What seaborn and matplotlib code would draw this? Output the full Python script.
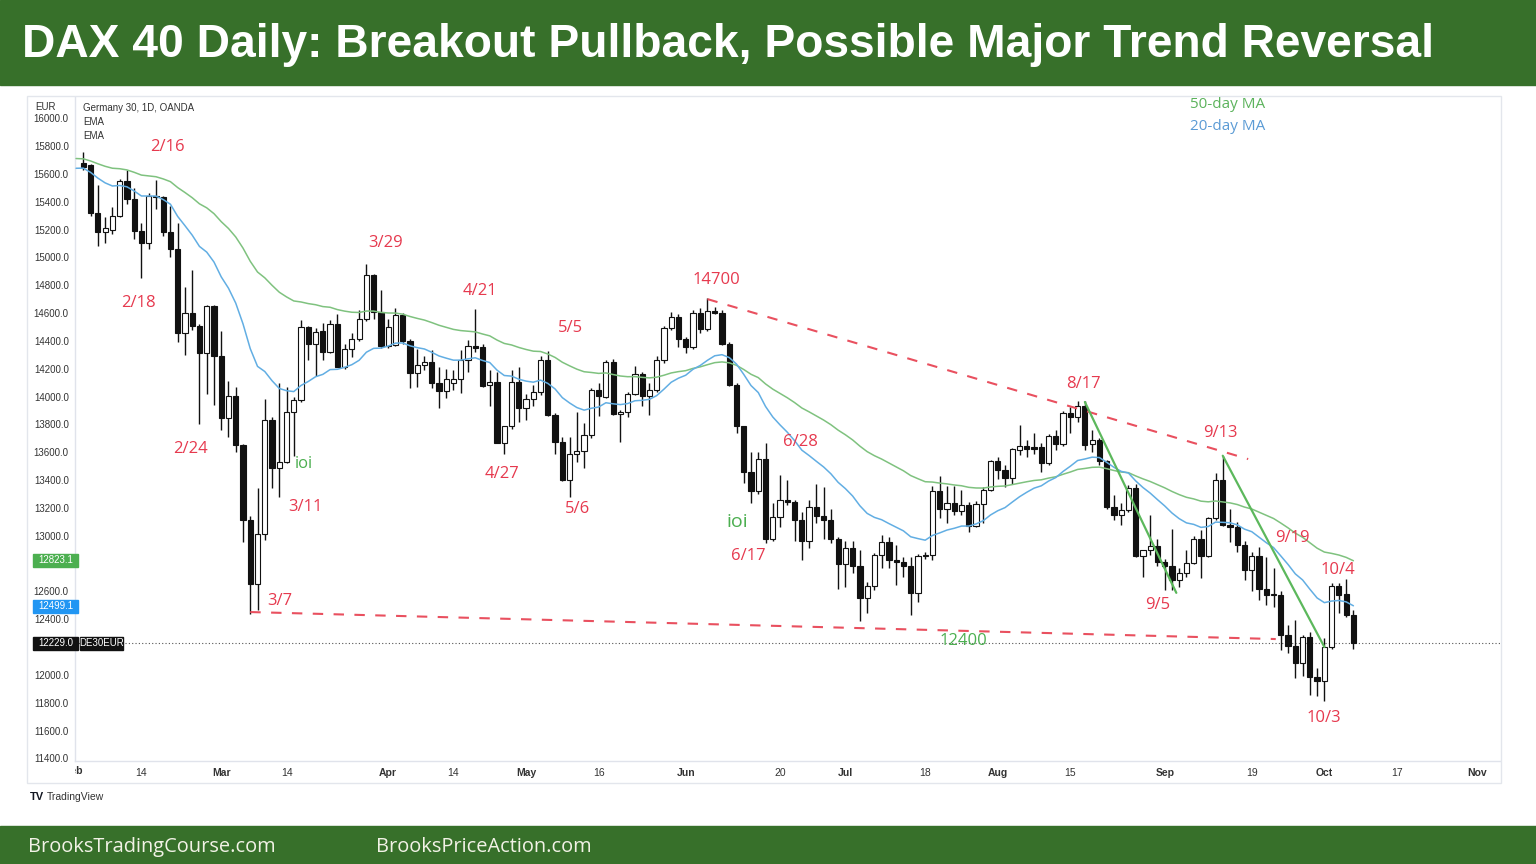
import numpy as np
import pandas as pd
import matplotlib
matplotlib.use("Agg")
import matplotlib.pyplot as plt
import matplotlib.transforms as mtransforms
from matplotlib.patches import Rectangle
import seaborn as sns

# daily OHLC, Germany 30 (DE30EUR), 2 Feb - 7 Oct 2022
opens = [15680, 15660, 15320, 15180, 15200, 15300, 15550, 15420, 15190, 15100,
         15440, 15435, 15180, 15060, 14460, 14600, 14510, 14310, 14650, 14290,
         13845, 14005, 13650, 13110, 12650, 13010, 13830, 13485, 13530, 13890,
         13975, 14500, 14380, 14470, 14320, 14520, 14215, 14345, 14410, 14560,
         14870, 14610, 14365, 14370, 14585, 14400, 14170, 14230, 14250, 14095,
         14040, 14100, 14125, 14265, 14360, 14355, 14085, 14105, 13670, 13785,
         14105, 13915, 13980, 14030, 14260, 13870, 13675, 13400, 13590, 13610,
         13725, 14045, 14000, 14250, 13875, 13890, 14020, 14160, 14005, 14045,
         14260, 14495, 14575, 14410, 14355, 14600, 14485, 14615, 14600, 14375,
         14085, 13785, 13455, 13320, 13550, 12980, 13135, 13260, 13240, 13110,
         12965, 13210, 13140, 13110, 12980, 12800, 12910, 12780, 12550, 12640,
         12860, 12955, 12825, 12815, 12785, 12590, 12855, 12860, 13325, 13195,
         13235, 13175, 13220, 13070, 13230, 13330, 13540, 13470, 13415, 13615,
         13645, 13635, 13635, 13520, 13715, 13660, 13880, 13855, 13930, 13660,
         13690, 13535, 13205, 13150, 13185, 13340, 12855, 12900, 12925, 12815,
         12785, 12680, 12735, 12805, 12980, 12855, 13125, 13400, 13080, 13065,
         12935, 12755, 12855, 12615, 12575, 12575, 12285, 12210, 12085, 12270,
         11985, 11955, 12200, 12640, 12580, 12430]
highs = [15757, 15670, 15520, 15290, 15360, 15560, 15630, 15500, 15250, 15460,
         15555, 15440, 15370, 15250, 14790, 14910, 14520, 14660, 14660, 14470,
         14115, 14070, 13660, 13140, 13340, 13985, 13850, 14095, 14070, 14000,
         14550, 14510, 14490, 14530, 14550, 14590, 14380, 14455, 14620, 14950,
         14880, 14765, 14560, 14635, 14600, 14410, 14345, 14290, 14335, 14215,
         14195, 14190, 14335, 14405, 14630, 14380, 14190, 14180, 13790, 14190,
         14210, 14020, 14085, 14290, 14330, 13880, 13710, 13710, 13890, 13810,
         14060, 14100, 14260, 14270, 13900, 14030, 14220, 14180, 14095, 14290,
         14510, 14605, 14590, 14430, 14620, 14635, 14705, 14640, 14620, 14395,
         14100, 13790, 13605, 13605, 13670, 13235, 13435, 13400, 13260, 13170,
         13255, 13375, 13350, 13190, 12990, 12960, 12960, 12900, 12670, 12875,
         13005, 12990, 12935, 12850, 12850, 12870, 12880, 13360, 13430, 13355,
         13355, 13330, 13245, 13250, 13350, 13545, 13565, 13505, 13630, 13795,
         13685, 13740, 13670, 13730, 13760, 13895, 13925, 13970, 13970, 13760,
         13700, 13545, 13290, 13235, 13365, 13375, 12900, 13150, 12980, 12830,
         13050, 12770, 12900, 12995, 13040, 13135, 13450, 13575, 13195, 13100,
         12960, 12880, 12920, 12850, 12765, 12600, 12360, 12395, 12290, 12310,
         12050, 12265, 12660, 12660, 12690, 12470]
lows = [15630, 15300, 15080, 15100, 15170, 15290, 15380, 15130, 14850, 15060,
        15345, 15155, 15000, 14390, 14300, 14480, 13800, 14020, 13940, 13760,
        13710, 13605, 12955, 12440, 12470, 12970, 13340, 13280, 13520, 13570,
        13960, 14260, 14145, 14260, 14310, 14210, 14200, 14287, 14400, 14540,
        14560, 14350, 14350, 14360, 14380, 14060, 14070, 14190, 14060, 13915,
        13987, 14050, 14025, 14180, 14320, 14070, 13930, 13665, 13590, 13770,
        13820, 13830, 13930, 14010, 13860, 13590, 13395, 13280, 13530, 13485,
        13700, 13860, 13990, 13870, 13675, 13855, 14010, 13930, 13870, 14030,
        14240, 14480, 14355, 14315, 14340, 14455, 14470, 14590, 14370, 14075,
        13740, 13380, 13235, 13300, 12945, 12960, 13065, 13220, 12965, 12825,
        12910, 13090, 12980, 12945, 12615, 12635, 12735, 12385, 12445, 12610,
        12765, 12765, 12645, 12705, 12430, 12525, 12830, 12825, 13125, 13090,
        13150, 13150, 13030, 13060, 13090, 13320, 13410, 13350, 13375, 13580,
        13565, 13590, 13455, 13510, 13615, 13645, 13735, 13820, 13615, 13605,
        13510, 13195, 13115, 13075, 13170, 12850, 12705, 12860, 12780, 12610,
        12610, 12635, 12705, 12800, 12695, 12845, 13115, 13070, 12955, 12885,
        12685, 12600, 12540, 12500, 12490, 12180, 12155, 11975, 11990, 11855,
        11850, 11810, 12190, 12445, 12420, 12185]
closes = [15650, 15320, 15180, 15210, 15300, 15550, 15420, 15190, 15100, 15440,
          15435, 15180, 15060, 14460, 14600, 14510, 14310, 14650, 14290, 13845,
          14005, 13650, 13110, 12650, 13010, 13830, 13485, 13530, 13890, 13975,
          14500, 14380, 14465, 14320, 14520, 14215, 14345, 14410, 14560, 14870,
          14610, 14365, 14500, 14585, 14400, 14170, 14225, 14250, 14095, 14040,
          14124, 14125, 14265, 14360, 14350, 14075, 14105, 13670, 13785, 14105,
          13915, 13980, 14030, 14260, 13870, 13675, 13400, 13590, 13610, 13725,
          14045, 14005, 14250, 13875, 13890, 14020, 14160, 14005, 14045, 14260,
          14495, 14575, 14410, 14355, 14600, 14485, 14615, 14600, 14375, 14085,
          13785, 13455, 13320, 13550, 12980, 13135, 13255, 13245, 13110, 12965,
          13210, 13140, 13110, 12980, 12800, 12910, 12780, 12550, 12640, 12860,
          12955, 12825, 12815, 12785, 12590, 12855, 12860, 13325, 13195, 13235,
          13175, 13220, 13070, 13230, 13330, 13540, 13470, 13415, 13620, 13645,
          13620, 13620, 13520, 13715, 13660, 13880, 13855, 13930, 13655, 13690,
          13535, 13205, 13150, 13185, 13340, 12855, 12895, 12925, 12815, 12785,
          12680, 12735, 12805, 12980, 12855, 13125, 13400, 13080, 13065, 12935,
          12755, 12855, 12615, 12575, 12580, 12285, 12210, 12085, 12270, 11985,
          11955, 12200, 12640, 12575, 12430, 12229]

# EMA values just before the first bar (left edge of the chart)
ema20_start = 15640
ema50_start = 15710

month_ticks = ["2022-02-01", "2022-03-01", "2022-04-01", "2022-05-02", "2022-06-01",
               "2022-07-01", "2022-08-01", "2022-09-01", "2022-10-03", "2022-11-01"]
month_names = ["Feb", "Mar", "Apr", "May", "Jun", "Jul", "Aug", "Sep", "Oct", "Nov"]
day_ticks = ["2022-02-14", "2022-03-14", "2022-04-14", "2022-05-16", "2022-06-20",
             "2022-07-18", "2022-08-15", "2022-09-19", "2022-10-17"]
day_names = ["14", "14", "14", "16", "20", "18", "15", "19", "17"]

labels_red = [("2/16", 11.6, 15793), ("2/18", 7.6, 14672), ("2/24", 14.7, 13623),
              ("3/7", 27.1, 12531), ("3/11", 30.6, 13207), ("3/29", 41.6, 15103),
              ("4/21", 54.7, 14758), ("4/27", 57.7, 13444), ("5/5", 67.1, 14493),
              ("5/6", 68.1, 13192), ("14700", 87.2, 14837), ("6/28", 98.8, 13674),
              ("6/17", 91.6, 12855), ("8/17", 137.8, 14090), ("9/13", 156.7, 13738),
              ("9/5", 148.1, 12503), ("9/19", 166.6, 12984), ("10/4", 172.9, 12754),
              ("10/3", 170.9, 11691)]

# trading calendar (OANDA skipped Good Friday / Easter Monday)
cal = pd.bdate_range("2022-02-01", "2022-11-01")
cal = cal[~cal.isin(pd.to_datetime(["2022-04-15", "2022-04-18"]))]
pos = pd.Series(np.arange(len(cal)) - 1, index=cal)  # 2 Feb = bar 0

df = pd.DataFrame({"o": opens, "h": highs, "l": lows, "c": closes})
df["x"] = np.arange(len(df))

ema20 = pd.Series([ema20_start] + closes).ewm(span=20, adjust=False).mean()
ema50 = pd.Series([ema50_start] + closes).ewm(span=50, adjust=False).mean()
ema_df = pd.DataFrame({"x": np.arange(len(df) + 1) - 1, "ema20": ema20, "ema50": ema50})

sns.set_style("white")
plt.rcParams["font.family"] = ["Liberation Sans", "DejaVu Sans"]

W, H = 1536, 864
fig = plt.figure(figsize=(15.36, 8.64), dpi=100)
fig.patch.set_facecolor("white")

GREEN_BAR = "#37702a"
RED = "#e6394e"


def fx(px):
    return px / W


def fy(py):
    return 1 - py / H


# header and footer bands
fig.patches.append(Rectangle((0, fy(85)), 1, 85 / H, transform=fig.transFigure,
                             color=GREEN_BAR, zorder=0))
fig.patches.append(Rectangle((0, 0), 1, 38 / H, transform=fig.transFigure,
                             color=GREEN_BAR, zorder=0))
fig.text(fx(22), fy(45), "DAX 40 Daily: Breakout Pullback, Possible Major Trend Reversal",
         color="white", fontsize=33.2, fontweight="bold", va="center", ha="left")
fig.text(fx(28), fy(847), "BrooksTradingCourse.com", color="#f2f2e6", fontsize=14.4,
         family="Open Sans", va="center")
fig.text(fx(376), fy(847), "BrooksPriceAction.com", color="#f2f2e6", fontsize=14.4,
         family="Open Sans", va="center")

# chart panel frame
fig.patches.append(Rectangle((fx(27), fy(783)), (1501 - 27) / W, (783 - 96) / H,
                             transform=fig.transFigure, fill=False,
                             edgecolor="#e3e6ec", lw=1, zorder=0))

ax = fig.add_axes([fx(75), fy(761), (1500 - 75) / W, (761 - 97) / H])
ax.set_xlim(-1.15, 195.2)
ax.set_ylim(11382, 16152)

# candles
ax.vlines(df["x"], df["l"], df["h"], color="#111111", lw=1, zorder=2)
up = df["c"] >= df["o"]
body_h = (df["c"] - df["o"]).abs().clip(lower=8)
body_b = df[["o", "c"]].min(axis=1)
ax.bar(df["x"][up], body_h[up], bottom=body_b[up], width=0.72, color="white",
       edgecolor="#111111", lw=0.8, zorder=3)
ax.bar(df["x"][~up], body_h[~up], bottom=body_b[~up], width=0.72, color="#111111",
       edgecolor="#111111", lw=0.8, zorder=3)

sns.lineplot(data=ema_df, x="x", y="ema50", ax=ax, color="#7fc27f", lw=1.1, zorder=4)
sns.lineplot(data=ema_df, x="x", y="ema20", ax=ax, color="#62aee3", lw=1.1, zorder=4)

# last price line
ax.axhline(closes[-1], color="#555555", ls=(0, (1, 2)), lw=0.8, zorder=1)

# trend lines
dash = (0, (5, 5))
ax.plot([23, 164.3], [12452, 12258], color="#e9505f", ls=dash, lw=1.5, zorder=5)
ax.plot([86, 160.5], [14700, 13551], color="#e9505f", ls=dash, lw=1.5, zorder=5)
ax.plot([138, 150.6], [13961, 12590], color="#5cb85c", lw=1.6, zorder=5)
ax.plot([157, 171], [13575, 12201], color="#5cb85c", lw=1.6, zorder=5)

for txt, x, y in labels_red:
    ax.text(x, y, txt, color=RED, fontsize=12, family="Open Sans",
            ha="center", va="center", zorder=6)
ax.text(30.4, 13516, "ioi", color="#4caf50", fontsize=12, family="Open Sans",
        ha="center", va="center", zorder=6)
ax.text(90.1, 13099, "ioi", color="#4caf50", fontsize=14, family="Open Sans",
        ha="center", va="center", zorder=6)
ax.text(121.2, 12244, "12400", color="#4caf50", fontsize=12, family="Open Sans",
        ha="center", va="center", zorder=6)

# axes styling
for s in ["top", "right"]:
    ax.spines[s].set_visible(False)
for s in ["left", "bottom"]:
    ax.spines[s].set_color("#e0e3eb")
    ax.spines[s].set_linewidth(1)
ax.set_xlabel("")
ax.set_ylabel("")
ax.grid(False)

# price levels hidden behind the price tags are left blank
yt = np.arange(11400, 16001, 200)
ax.set_yticks(yt)
ax.set_yticklabels(["" if v in (12200, 12800) else f"{v:.1f}" for v in yt],
                   fontsize=7, color="#333333")
ax.tick_params(axis="y", length=0, pad=4.5)

xt = [pos[pd.Timestamp(d)] for d in month_ticks[1:]] + [pos[pd.Timestamp(d)] for d in day_ticks]
xl = month_names[1:] + day_names
ax.set_xticks(xt)
ax.set_xticklabels(xl, fontsize=7.5, color="#333333")
for lab in ax.get_xticklabels():
    if lab.get_text() in month_names:
        lab.set_fontweight("bold")
ax.tick_params(axis="x", length=0, pad=5)

# partly hidden "Feb" label at the left edge
feb = fig.text(ax.transData.transform((pos[pd.Timestamp(month_ticks[0])] - 0.4, 0))[0] / W,
               fy(771), month_names[0], fontsize=7.5, fontweight="bold", color="#333333",
               ha="center", va="center")
feb.set_clip_box(mtransforms.TransformedBbox(
    mtransforms.Bbox([[fx(75), 0], [fx(1500), 1]]), fig.transFigure))

# header texts inside the chart
fig.text(fx(35), fy(107), "EUR", fontsize=7, color="#333333", va="center")
fig.text(fx(83), fy(108), "Germany 30, 1D, OANDA", fontsize=7, color="#333333", va="center")
fig.text(fx(83), fy(122), "EMA", fontsize=7, color="#333333", va="center")
fig.text(fx(83), fy(136), "EMA", fontsize=7, color="#333333", va="center")
fig.text(fx(1190), fy(104), "50-day MA", fontsize=11, color="#5cb35c",
         family="Open Sans", va="center")
fig.text(fx(1190), fy(127), "20-day MA", fontsize=11, color="#5b9bd5",
         family="Open Sans", va="center")

# price tags on the y-axis
tags = [("12823.1", 560, "#4caf50", 33, 78), ("12499.1", 606, "#2196f3", 33, 78),
        ("12229.0", 643, "#111111", 33, 78), ("DE30EUR", 643, "#111111", 80, 123)]
for txt, py, col, x0, x1 in tags:
    fig.patches.append(Rectangle((fx(x0), fy(py + 6.5)), (x1 - x0) / W, 13 / H,
                                 transform=fig.transFigure, color=col, zorder=5))
    fig.text(fx((x0 + x1) / 2), fy(py), txt, fontsize=7, color="white",
             ha="center", va="center", zorder=6)

fig.text(fx(30), fy(797), "TV", fontsize=8, fontweight="bold", color="#131722", va="center")
fig.text(fx(47), fy(797), "TradingView", fontsize=7.5, color="#333333", va="center")

fig.savefig("out.png", dpi=100)
